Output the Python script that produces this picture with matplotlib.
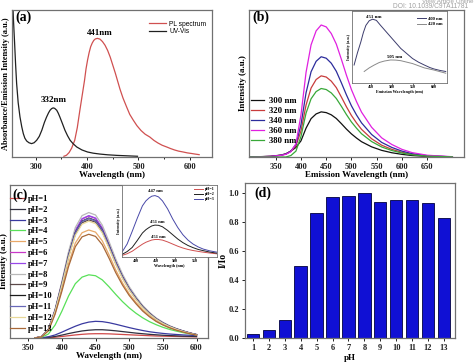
import matplotlib
matplotlib.use('Agg')
import matplotlib.pyplot as plt
from matplotlib.ticker import MultipleLocator, FixedLocator, FormatStrFormatter

# ---------------- data ----------------
# (a) UV-Vis and PL spectrum
uv_wl = [254, 255.5, 257, 259, 261, 263, 266, 269.5, 273, 276, 279, 282.5, 287, 292, 297, 302, 307, 312, 317, 321, 325, 328, 331, 334, 337, 341, 344, 347, 352, 357, 362, 367, 373, 380, 390, 401, 412, 425, 440, 458, 478, 498]
uv_y = [1.15, 1.05, 0.92, 0.78, 0.63, 0.5, 0.37, 0.273, 0.205, 0.159, 0.128, 0.109, 0.097, 0.091, 0.097, 0.114, 0.14, 0.182, 0.235, 0.27, 0.3, 0.318, 0.329, 0.334, 0.331, 0.318, 0.298, 0.273, 0.228, 0.182, 0.145, 0.114, 0.09, 0.068, 0.048, 0.034, 0.026, 0.02, 0.015, 0.011, 0.008, 0.005]
pl_wl = [355, 360, 365, 370, 376, 381, 386, 391, 395, 398, 401, 404, 407, 410, 413, 416, 420, 425, 430, 435, 440, 445, 450, 455, 460, 464, 470, 477, 483, 490, 497, 505, 513, 522, 530, 538, 546, 555, 562, 570, 578, 587, 595, 603, 610, 618]
pl_y = [0.005, 0.012, 0.03, 0.06, 0.114, 0.2, 0.318, 0.43, 0.52, 0.6, 0.66, 0.71, 0.75, 0.775, 0.793, 0.803, 0.807, 0.802, 0.785, 0.76, 0.725, 0.68, 0.625, 0.57, 0.51, 0.462, 0.4, 0.34, 0.29, 0.25, 0.213, 0.18, 0.155, 0.136, 0.113, 0.095, 0.08, 0.068, 0.058, 0.048, 0.04, 0.034, 0.028, 0.024, 0.02, 0.016]

# (b) emission at several excitation wavelengths
b_wl = [300, 340, 360, 370, 380, 390, 400, 410, 420, 430, 440, 450, 460, 470, 480, 490, 500, 510, 520, 540, 560, 580, 600, 620, 650, 700]
b_labels = ['300 nm', '320 nm', '340 nm', '360 nm', '380 nm']
b_300 = [0, 0.005, 0.013, 0.022, 0.04, 0.065, 0.11, 0.196, 0.261, 0.293, 0.307, 0.302, 0.287, 0.262, 0.227, 0.19, 0.157, 0.129, 0.104, 0.069, 0.045, 0.029, 0.018, 0.01, 0.004, 0.001]
b_320 = [0, 0.004, 0.012, 0.02, 0.04, 0.075, 0.177, 0.353, 0.469, 0.527, 0.552, 0.544, 0.516, 0.472, 0.408, 0.342, 0.282, 0.232, 0.188, 0.124, 0.08, 0.052, 0.032, 0.018, 0.007, 0.001]
b_340 = [0, 0.004, 0.012, 0.02, 0.04, 0.085, 0.22, 0.436, 0.58, 0.651, 0.682, 0.672, 0.638, 0.583, 0.505, 0.423, 0.348, 0.286, 0.232, 0.153, 0.099, 0.065, 0.04, 0.023, 0.009, 0.001]
b_360 = [0, 0.004, 0.011, 0.018, 0.036, 0.09, 0.287, 0.575, 0.763, 0.858, 0.898, 0.885, 0.84, 0.768, 0.665, 0.557, 0.458, 0.377, 0.305, 0.202, 0.13, 0.085, 0.052, 0.03, 0.012, 0.002]
b_380 = [0, 0, 0, 0, 0.01, 0.04, 0.14, 0.298, 0.396, 0.445, 0.466, 0.459, 0.436, 0.398, 0.345, 0.289, 0.238, 0.196, 0.158, 0.105, 0.068, 0.044, 0.027, 0.015, 0.006, 0.001]
b_series = [b_300, b_320, b_340, b_360, b_380]

# (b) inset
bi_wl_400 = [410, 418, 426, 432, 438, 446, 454, 463, 473, 485, 497, 509, 521, 535, 549, 563, 577, 590, 600, 614, 628]
bi_400 = [0.25, 0.42, 0.57, 0.7, 0.8, 0.865, 0.886, 0.87, 0.8, 0.72, 0.64, 0.56, 0.48, 0.41, 0.34, 0.29, 0.25, 0.215, 0.195, 0.175, 0.16]
bi_wl_420 = [434, 446, 458, 470, 482, 497, 509, 521, 535, 549, 563, 577, 600, 628]
bi_420 = [0.16, 0.21, 0.25, 0.285, 0.305, 0.32, 0.318, 0.31, 0.29, 0.27, 0.24, 0.21, 0.18, 0.136]
bi_labels = ['400 nm', '420 nm']

# (c) emission at pH 1-13
c_wl = [360, 370, 380, 390, 400, 410, 420, 430, 440, 450, 460, 470, 480, 490, 500, 510, 520, 530, 540, 550, 560, 570, 580, 590, 600]
ph_labels = ['pH=1', 'pH=2', 'pH=3', 'pH=4', 'pH=5', 'pH=6', 'pH=7', 'pH=8', 'pH=9', 'pH=10', 'pH=11', 'pH=12', 'pH=13']
c_ph1 = [0.0, 0.001, 0.002, 0.005, 0.01, 0.015, 0.02, 0.024, 0.027, 0.028, 0.028, 0.027, 0.025, 0.023, 0.021, 0.019, 0.017, 0.015, 0.013, 0.012, 0.011, 0.01, 0.009, 0.008, 0.007]
c_ph2 = [0.0, 0.001, 0.004, 0.01, 0.019, 0.029, 0.038, 0.046, 0.051, 0.054, 0.054, 0.051, 0.047, 0.042, 0.037, 0.032, 0.028, 0.024, 0.021, 0.018, 0.016, 0.014, 0.012, 0.011, 0.01]
c_ph3 = [0.0, 0.002, 0.008, 0.02, 0.038, 0.058, 0.077, 0.093, 0.104, 0.109, 0.107, 0.1, 0.09, 0.079, 0.068, 0.058, 0.049, 0.041, 0.035, 0.03, 0.026, 0.023, 0.02, 0.018, 0.016]
c_ph4 = [0.0, 0.005, 0.026, 0.085, 0.175, 0.275, 0.355, 0.398, 0.413, 0.407, 0.38, 0.335, 0.285, 0.238, 0.197, 0.162, 0.132, 0.107, 0.087, 0.07, 0.056, 0.045, 0.035, 0.027, 0.02]
c_ph5 = [0.0, 0.008, 0.049, 0.162, 0.318, 0.487, 0.621, 0.688, 0.706, 0.692, 0.635, 0.544, 0.445, 0.36, 0.289, 0.233, 0.184, 0.145, 0.113, 0.088, 0.068, 0.053, 0.04, 0.029, 0.02]
c_ph6 = [0.0, 0.01, 0.055, 0.182, 0.357, 0.549, 0.70, 0.777, 0.797, 0.781, 0.717, 0.614, 0.502, 0.406, 0.327, 0.263, 0.207, 0.163, 0.128, 0.1, 0.077, 0.06, 0.045, 0.033, 0.022]
c_ph7 = [0.0, 0.01, 0.056, 0.184, 0.36, 0.552, 0.704, 0.78, 0.80, 0.784, 0.72, 0.616, 0.504, 0.408, 0.328, 0.264, 0.208, 0.164, 0.128, 0.1, 0.078, 0.06, 0.046, 0.033, 0.022]
c_ph8 = [0.0, 0.01, 0.057, 0.189, 0.369, 0.566, 0.722, 0.8, 0.82, 0.804, 0.738, 0.631, 0.517, 0.418, 0.336, 0.271, 0.213, 0.168, 0.131, 0.103, 0.08, 0.062, 0.047, 0.034, 0.023]
c_ph9 = [0.0, 0.009, 0.054, 0.178, 0.347, 0.533, 0.679, 0.753, 0.772, 0.757, 0.695, 0.594, 0.486, 0.394, 0.317, 0.255, 0.201, 0.158, 0.124, 0.097, 0.075, 0.058, 0.044, 0.032, 0.022]
c_ph10 = [0.0, 0.009, 0.055, 0.18, 0.353, 0.541, 0.69, 0.764, 0.784, 0.768, 0.706, 0.604, 0.494, 0.4, 0.321, 0.259, 0.204, 0.161, 0.125, 0.098, 0.076, 0.059, 0.045, 0.032, 0.022]
c_ph11 = [0.0, 0.009, 0.055, 0.18, 0.352, 0.54, 0.688, 0.762, 0.782, 0.766, 0.704, 0.602, 0.493, 0.399, 0.321, 0.258, 0.203, 0.16, 0.125, 0.098, 0.076, 0.059, 0.045, 0.032, 0.022]
c_ph12 = [0.0, 0.009, 0.053, 0.175, 0.343, 0.526, 0.671, 0.744, 0.763, 0.748, 0.687, 0.588, 0.481, 0.389, 0.313, 0.252, 0.198, 0.156, 0.122, 0.095, 0.074, 0.057, 0.043, 0.031, 0.021]
c_ph13 = [0.0, 0.008, 0.047, 0.156, 0.305, 0.468, 0.597, 0.661, 0.678, 0.664, 0.61, 0.522, 0.427, 0.346, 0.278, 0.224, 0.176, 0.139, 0.108, 0.085, 0.066, 0.051, 0.039, 0.028, 0.019]
c_series = [c_ph1, c_ph2, c_ph3, c_ph4, c_ph5, c_ph6, c_ph7, c_ph8, c_ph9, c_ph10, c_ph11, c_ph12, c_ph13]

# (c) inset
ci_wl = [364, 377, 390, 403, 416, 425, 433, 440, 448, 457, 467, 480, 493, 506, 519, 532, 545, 558, 571, 588, 606]
ci_ph1 = [0.022, 0.045, 0.08, 0.13, 0.178, 0.205, 0.222, 0.236, 0.243, 0.243, 0.235, 0.21, 0.18, 0.15, 0.125, 0.105, 0.09, 0.078, 0.067, 0.055, 0.044]
ci_ph2 = [0.036, 0.075, 0.133, 0.23, 0.333, 0.38, 0.41, 0.432, 0.443, 0.44, 0.42, 0.37, 0.31, 0.25, 0.2, 0.16, 0.13, 0.105, 0.088, 0.068, 0.053]
ci_ph3 = [0.067, 0.18, 0.356, 0.54, 0.71, 0.78, 0.82, 0.845, 0.853, 0.835, 0.78, 0.67, 0.53, 0.41, 0.31, 0.235, 0.18, 0.14, 0.11, 0.085, 0.067]
ci_labels = ['pH=1', 'pH=2', 'pH=3']

# (d) relative intensity vs pH
ph = [1, 2, 3, 4, 5, 6, 7, 8, 9, 10, 11, 12, 13]
ratio = [0.03, 0.058, 0.127, 0.499, 0.861, 0.972, 0.98, 1.0, 0.942, 0.956, 0.954, 0.931, 0.827]

# ---------------- styling ----------------
plt.rcParams.update({
    'font.family': ['Liberation Serif', 'DejaVu Serif'],
    'font.weight': 'bold',
    'axes.labelweight': 'bold',
    'axes.linewidth': 0.9,
    'axes.edgecolor': '#707070',
})

W, H = 474, 363
fig = plt.figure(figsize=(W / 100, H / 100), dpi=100)


def rect(l, t, r, b):
    return [l / W, 1 - b / H, (r - l) / W, (b - t) / H]


def fp(x, y):
    return (x / W, 1 - y / H)


def base_style(ax, fs=6):
    ax.tick_params(axis='x', direction='out', length=2.5, width=0.7, labelsize=fs,
                   colors='#202020', pad=1.5)
    ax.tick_params(axis='x', which='minor', direction='out', length=1.5, width=0.6)
    ax.tick_params(axis='y', left=False, labelleft=False)
    for s in ax.spines.values():
        s.set_color('#707070')


# ---------- (a) ----------
axA = fig.add_axes(rect(12, 10, 212, 157))
lpl, = axA.plot(pl_wl, pl_y, color='#d05050', lw=0.9)
luv, = axA.plot(uv_wl, uv_y, color='#202020', lw=0.9)
axA.set_xlim(254, 643)
axA.set_ylim(0, 1.0)
axA.xaxis.set_major_locator(MultipleLocator(100))
axA.xaxis.set_minor_locator(MultipleLocator(50))
base_style(axA)
axA.set_xlabel('Wavelength (nm)', fontsize=6.5, labelpad=0.5)
axA.set_ylabel('Absorbance/Emission Intensity (a.u.)', fontsize=6, labelpad=1.5)
axA.legend([lpl, luv], ['PL spectrum', 'UV-Vis'], loc='upper left',
           bbox_to_anchor=fp(149, 20.5), bbox_transform=fig.transFigure, frameon=False,
           prop={'family': 'Liberation Sans', 'size': 4.8, 'weight': 'normal'},
           handlelength=2.6, handletextpad=0.4, borderpad=0, borderaxespad=0, labelspacing=0.1)
fig.text(*fp(15, 17), '(a)', fontsize=10, fontweight='bold', ha='left', va='center')
fig.text(*fp(100, 33), '441nm', fontsize=6.5, fontweight='bold', ha='center', va='center')
fig.text(*fp(54, 100.5), '332nm', fontsize=6.5, fontweight='bold', ha='center', va='center')

# ---------- (b) ----------
axB = fig.add_axes(rect(249, 10, 464, 157))
b_colors = ['#101010', '#c83c3c', '#2c2c9c', '#e020e0', '#38a838']
b_lines = []
for ys, c in zip(b_series, b_colors):
    ln, = axB.plot(b_wl, ys, color=c, lw=0.9)
    b_lines.append(ln)
axB.set_xlim(297, 723)
axB.set_ylim(0, 1.0)
axB.xaxis.set_major_locator(FixedLocator([350, 400, 450, 500, 550, 600, 650]))
base_style(axB)
axB.set_xlabel('Emission Wavelength (nm)', fontsize=6.5, labelpad=0.5)
axB.set_ylabel('Intensity (a.u.)', fontsize=6.5, labelpad=1.5)
axB.legend(b_lines, b_labels, loc='upper left', bbox_to_anchor=fp(251, 96.5),
           bbox_transform=fig.transFigure, frameon=False,
           prop={'size': 6.3, 'weight': 'bold'}, handlelength=1.5, handletextpad=0.55,
           borderpad=0, borderaxespad=0, labelspacing=0.22)
fig.text(*fp(252, 17.5), '(b)', fontsize=10, fontweight='bold', ha='left', va='center')

# (b) inset
axBi = fig.add_axes(rect(352, 11, 447, 83))
l400, = axBi.plot(bi_wl_400, bi_400, color='#3c3c6c', lw=0.7)
l420, = axBi.plot(bi_wl_420, bi_420, color='#8a8a8a', lw=0.7)
axBi.set_xlim(405, 631)
axBi.set_ylim(0, 1.0)
axBi.xaxis.set_major_locator(FixedLocator([450, 500, 550, 600]))
axBi.tick_params(axis='x', direction='out', length=1.2, width=0.4, labelsize=3, pad=0.5)
axBi.tick_params(axis='y', left=False, labelleft=False)
for s in axBi.spines.values():
    s.set_color('#707070')
    s.set_linewidth(0.6)
axBi.set_xlabel('Emission Wavelength (nm)', fontsize=3, labelpad=0.3)
axBi.set_ylabel('Intensity (a.u.)', fontsize=3, labelpad=0.8)
axBi.legend([l400, l420], bi_labels, loc='upper left', bbox_to_anchor=fp(417, 16.5),
            bbox_transform=fig.transFigure, frameon=False,
            prop={'size': 3.3, 'weight': 'bold'}, handlelength=2.0, handletextpad=0.4,
            borderpad=0, borderaxespad=0, labelspacing=0.3)
fig.text(*fp(374, 17), '451 nm', fontsize=3.5, fontweight='bold', ha='center', va='center')
fig.text(*fp(395, 56.5), '505 nm', fontsize=3.5, fontweight='bold', ha='center', va='center')

# ---------- (c) ----------
axC = fig.add_axes(rect(10, 185, 208, 338))
c_colors = ['#d04848', '#303040', '#3a3aa0', '#58e058', '#e8a868', '#c838c8', '#9848e8',
            '#b8b8b8', '#5a4848', '#1a1a1a', '#6868b8', '#e8d898', '#a86838']
c_lines = []
for ys, c in zip(c_series, c_colors):
    ln, = axC.plot(c_wl, ys, color=c, lw=0.9)
    c_lines.append(ln)
axC.set_xlim(323, 617)
axC.set_ylim(0, 1.0)
axC.xaxis.set_major_locator(FixedLocator([350, 400, 450, 500, 550, 600]))
base_style(axC)
axC.set_xlabel('Wavelength (nm)', fontsize=6.5, labelpad=0.5)
axC.set_ylabel('Intensity (a.u.)', fontsize=6.5, labelpad=1.5)
axC.legend(c_lines, ph_labels, loc='upper left', bbox_to_anchor=fp(10, 195),
           bbox_transform=fig.transFigure, frameon=False,
           prop={'size': 6.1, 'weight': 'bold'}, handlelength=1.8, handletextpad=0.3,
           borderpad=0, borderaxespad=0, labelspacing=0.33)
fig.text(*fp(12, 195), '(c)', fontsize=10, fontweight='bold', ha='left', va='center')

# (c) inset
axCi = fig.add_axes(rect(122, 185, 217, 257))
i1, = axCi.plot(ci_wl, ci_ph1, color='#d05050', lw=0.7)
i2, = axCi.plot(ci_wl, ci_ph2, color='#202020', lw=0.7)
i3, = axCi.plot(ci_wl, ci_ph3, color='#4848a8', lw=0.7)
axCi.set_xlim(364, 606)
axCi.set_ylim(0, 1.0)
axCi.xaxis.set_major_locator(FixedLocator([400, 450, 500, 550]))
axCi.tick_params(axis='x', direction='out', length=1.2, width=0.4, labelsize=3, pad=0.5)
axCi.tick_params(axis='y', left=False, labelleft=False)
for s in axCi.spines.values():
    s.set_color('#707070')
    s.set_linewidth(0.6)
axCi.set_xlabel('Wavelength (nm)', fontsize=3, labelpad=0.3)
axCi.set_ylabel('Intensity (a.u.)', fontsize=3, labelpad=0.8)
axCi.legend([i1, i2, i3], ci_labels, loc='upper left', bbox_to_anchor=fp(194, 187.5),
            bbox_transform=fig.transFigure, frameon=False,
            prop={'size': 3.0, 'weight': 'bold'}, handlelength=2.2, handletextpad=0.4,
            borderpad=0, borderaxespad=0, labelspacing=0.2)
fig.text(*fp(155, 190.5), '447 nm', fontsize=3.3, fontweight='bold', ha='center', va='center')
fig.text(*fp(157, 222), '451 nm', fontsize=3.3, fontweight='bold', ha='center', va='center')
fig.text(*fp(158, 236.5), '451 nm', fontsize=3.3, fontweight='bold', ha='center', va='center')

# ---------- (d) ----------
axD = fig.add_axes(rect(245, 183, 455, 338))
axD.bar(ph, ratio, width=0.78, color='#1010d4', edgecolor='#000040', linewidth=0.6)
axD.set_xlim(0.5, 13.7)
axD.set_ylim(0, 1.07)
axD.xaxis.set_major_locator(FixedLocator(ph))
axD.yaxis.set_major_locator(MultipleLocator(0.2))
axD.yaxis.set_major_formatter(FormatStrFormatter('%.1f'))
axD.tick_params(axis='both', direction='out', length=2.5, width=0.7, labelsize=6,
                colors='#202020', pad=1.5)
for s in axD.spines.values():
    s.set_color('#707070')
axD.set_xlabel('pH', fontsize=6.5, labelpad=2)
axD.set_ylabel('I/Io', fontsize=7, labelpad=0.8)
fig.text(*fp(254, 193.5), '(d)', fontsize=10, fontweight='bold', ha='left', va='center')

# watermark
fig.text(*fp(474, 1.5), 'View Article Online', fontsize=4.5, color='#a0a0a0',
         family='Liberation Sans', fontweight='normal', ha='right', va='center')
fig.text(*fp(393, 6.5), 'DOI: 10.1039/C9TA11781', fontsize=4.8, color='#a0a0a0',
         family='Liberation Sans', fontweight='normal', ha='left', va='center')

fig.savefig('out.png', dpi=100)
